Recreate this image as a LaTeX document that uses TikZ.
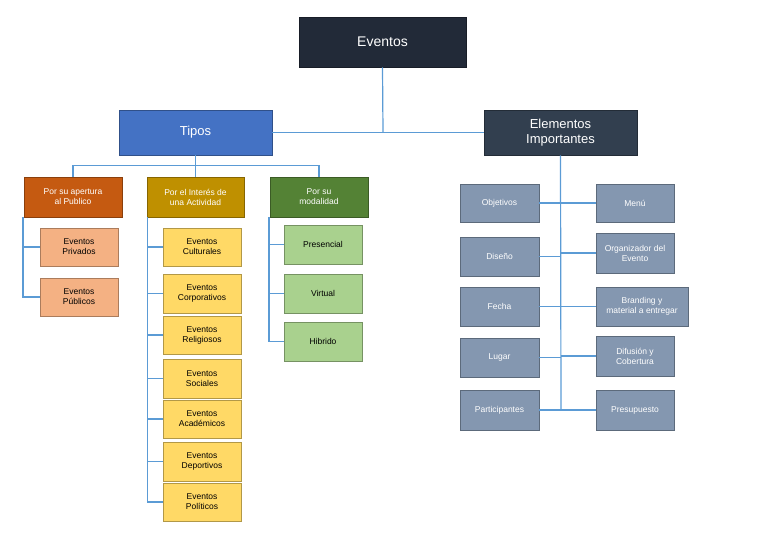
\documentclass[tikz,border=0pt]{standalone}
\usepackage{fontspec}
\setmainfont{Liberation Sans}
\definecolor{dk}{HTML}{222A38}
\definecolor{dk2}{HTML}{323F4F}
\definecolor{tb}{HTML}{4472C4}
\definecolor{ora}{HTML}{C55A11}
\definecolor{gld}{HTML}{BF9000}
\definecolor{grn}{HTML}{548235}
\definecolor{lora}{HTML}{F4B183}
\definecolor{lyel}{HTML}{FFD966}
\definecolor{lgrn}{HTML}{A9D18E}
\definecolor{slate}{HTML}{8497B0}
\definecolor{ln}{HTML}{5B9BD5}
\begin{document}
\begin{tikzpicture}[x=1pt,y=-1pt,
 bx/.style={draw=#1!70!black,line width=0.6pt,align=center,inner sep=1pt,font=\fontsize{8.5}{10}\selectfont},
 conn/.style={draw=ln,line width=1.2pt}]
\useasboundingbox (0,0) rectangle (768,543);
\newcommand\bxat[7]{\node[bx=#6,fill=#6,text=#7,minimum width={#3-#1},minimum height={#4-#2}] (#5) at ({(#1+#3)/2},{(#2+#4)/2})}
\bxat{299}{17}{466}{67}{ev}{dk}{white}[font=\fontsize{14}{16}\selectfont]{Eventos};
\bxat{119}{110}{272}{155}{tp}{tb}{white}[font=\fontsize{13}{15}\selectfont]{Tipos};
\bxat{484}{110}{637}{155}{el}{dk2}{white}[font=\fontsize{13}{15}\selectfont]{Elementos\\Importantes};
\bxat{24}{177}{122}{217}{a}{ora}{white}{Por su apertura\\al Publico};
\bxat{147}{177}{244}{217}{b}{gld}{white}{Por el Interés de\\una Actividad};
\bxat{270}{177}{368}{217}{c}{grn}{white}{Por su\\modalidad};
\bxat{40}{228}{118}{266}{a1}{lora}{black}{Eventos\\Privados};
\bxat{40}{278}{118}{316}{a2}{lora}{black}{Eventos\\Públicos};
\bxat{163}{228}{241}{266}{b1}{lyel}{black}{Eventos\\Culturales};
\bxat{163}{274}{241}{313}{b2}{lyel}{black}{Eventos\\Corporativos};
\bxat{163}{316}{241}{354}{b3}{lyel}{black}{Eventos\\Religiosos};
\bxat{163}{359}{241}{398}{b4}{lyel}{black}{Eventos\\Sociales};
\bxat{163}{400}{241}{438}{b5}{lyel}{black}{Eventos\\Académicos};
\bxat{163}{442}{241}{481}{b6}{lyel}{black}{Eventos\\Deportivos};
\bxat{163}{483}{241}{521}{b7}{lyel}{black}{Eventos\\Políticos};
\bxat{284}{225}{362}{264}{c1}{lgrn}{black}{Presencial};
\bxat{284}{274}{362}{313}{c2}{lgrn}{black}{Virtual};
\bxat{284}{322}{362}{361}{c3}{lgrn}{black}{Hibrido};
\bxat{460}{184}{539}{222}{l1}{slate}{white}{Objetivos};
\bxat{460}{237}{539}{276}{l2}{slate}{white}{Diseño};
\bxat{460}{287}{539}{326}{l3}{slate}{white}{Fecha};
\bxat{460}{338}{539}{377}{l4}{slate}{white}{Lugar};
\bxat{460}{390}{539}{430}{l5}{slate}{white}{Participantes};
\bxat{596}{184}{674}{222}{r1}{slate}{white}{Menú};
\bxat{596}{233}{674}{273}{r2}{slate}{white}{Organizador del\\Evento};
\bxat{596}{287}{688}{326}{r3}{slate}{white}{Branding y\\material a entregar};
\bxat{596}{336}{674}{376}{r4}{slate}{white}{Difusión y\\Cobertura};
\bxat{596}{390}{674}{430}{r5}{slate}{white}{Presupuesto};
\coordinate (j1) at (383,132);
\begin{scope}[on background layer/.style={}]
\draw[conn] (ev.south) -- (j1);
\draw[conn] (tp.east) -- (el.west);
\draw[conn] (tp.south) -- ++(0,10) -| (a.north);
\draw[conn] (tp.south) ++(0,10) -| (b.north);
\draw[conn] (tp.south) ++(0,10) -| (c.north);
\foreach \n in {a1,a2} \draw[conn] ([xshift=-50pt]a.south) |- (\n.west);
\foreach \n in {b1,b2,b3,b4,b5,b6,b7} \draw[conn] ([xshift=-48pt]b.south) |- (\n.west);
\foreach \n in {c1,c2,c3} \draw[conn] ([xshift=-50pt]c.south) |- (\n.west);
\draw[conn] (el.south) -- (561,410);
\foreach \n in {l1,l2,l3,l4,l5} \draw[conn] (\n.east) -- (\n.east -| el.south);
\foreach \n in {r1,r2,r3,r4,r5} \draw[conn] (\n.west) -- (\n.west -| el.south);
\end{scope}
\end{tikzpicture}
\end{document}
